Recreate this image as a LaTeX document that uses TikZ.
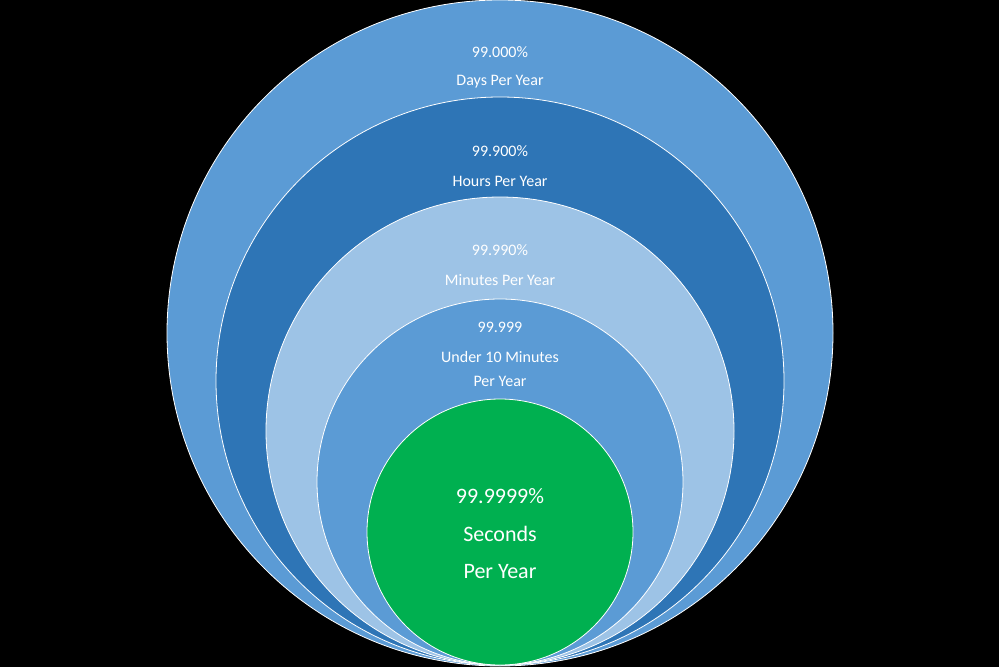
\documentclass[tikz,border=0pt]{standalone}
\usepackage{fontspec}
\setmainfont{Carlito}
\begin{document}
\begin{tikzpicture}[x=1pt,y=-1pt,
  ring/.style={draw=white,line width=0.8pt},
  lbl/.style={text=white,font=\fontsize{16}{18}\selectfont,inner sep=0pt},
  big/.style={text=white,font=\fontsize{22}{24}\selectfont,inner sep=0pt}]
\fill[black] (0,0) rectangle (999,667);
\useasboundingbox (0,0) rectangle (999,667);
\definecolor{c1}{HTML}{5B9BD5}
\definecolor{c2}{HTML}{2E75B6}
\definecolor{c3}{HTML}{9DC3E6}
\definecolor{c5}{HTML}{00B050}
\node[ring,fill=c1,circle,minimum size=666pt,inner sep=0pt] (o1) at (500,333) {};
\node[ring,fill=c2,circle,minimum size=568pt,inner sep=0pt] (o2) at (500,381) {};
\node[ring,fill=c3,circle,minimum size=468pt,inner sep=0pt] (o3) at (500,431) {};
\node[ring,fill=c1,circle,minimum size=366pt,inner sep=0pt] (o4) at (500,482) {};
\node[ring,fill=c5,circle,minimum size=266pt,inner sep=0pt] (o5) at (500,532) {};
\node[lbl] (t1a) at (500,52) {99.000\%};
\node[lbl] (t1b) at (500,82) {Days Per Year};
\node[lbl] (t2a) at (500,151) {99.900\%};
\node[lbl] (t2b) at (500,181) {Hours Per Year};
\node[lbl] (t3a) at (500,250) {99.990\%};
\node[lbl] (t3b) at (500,280) {Minutes Per Year};
\node[lbl] (t4a) at (500,327) {99.999};
\node[lbl] (t4b) at (500,357) {Under 10 Minutes};
\node[lbl] (t4c) at (500,381) {Per Year};
\node[big] (t5a) at (500,496) {99.9999\%};
\node[big] (t5b) at (500,534) {Seconds};
\node[big] (t5c) at (500,572) {Per Year};
\end{tikzpicture}
\end{document}
